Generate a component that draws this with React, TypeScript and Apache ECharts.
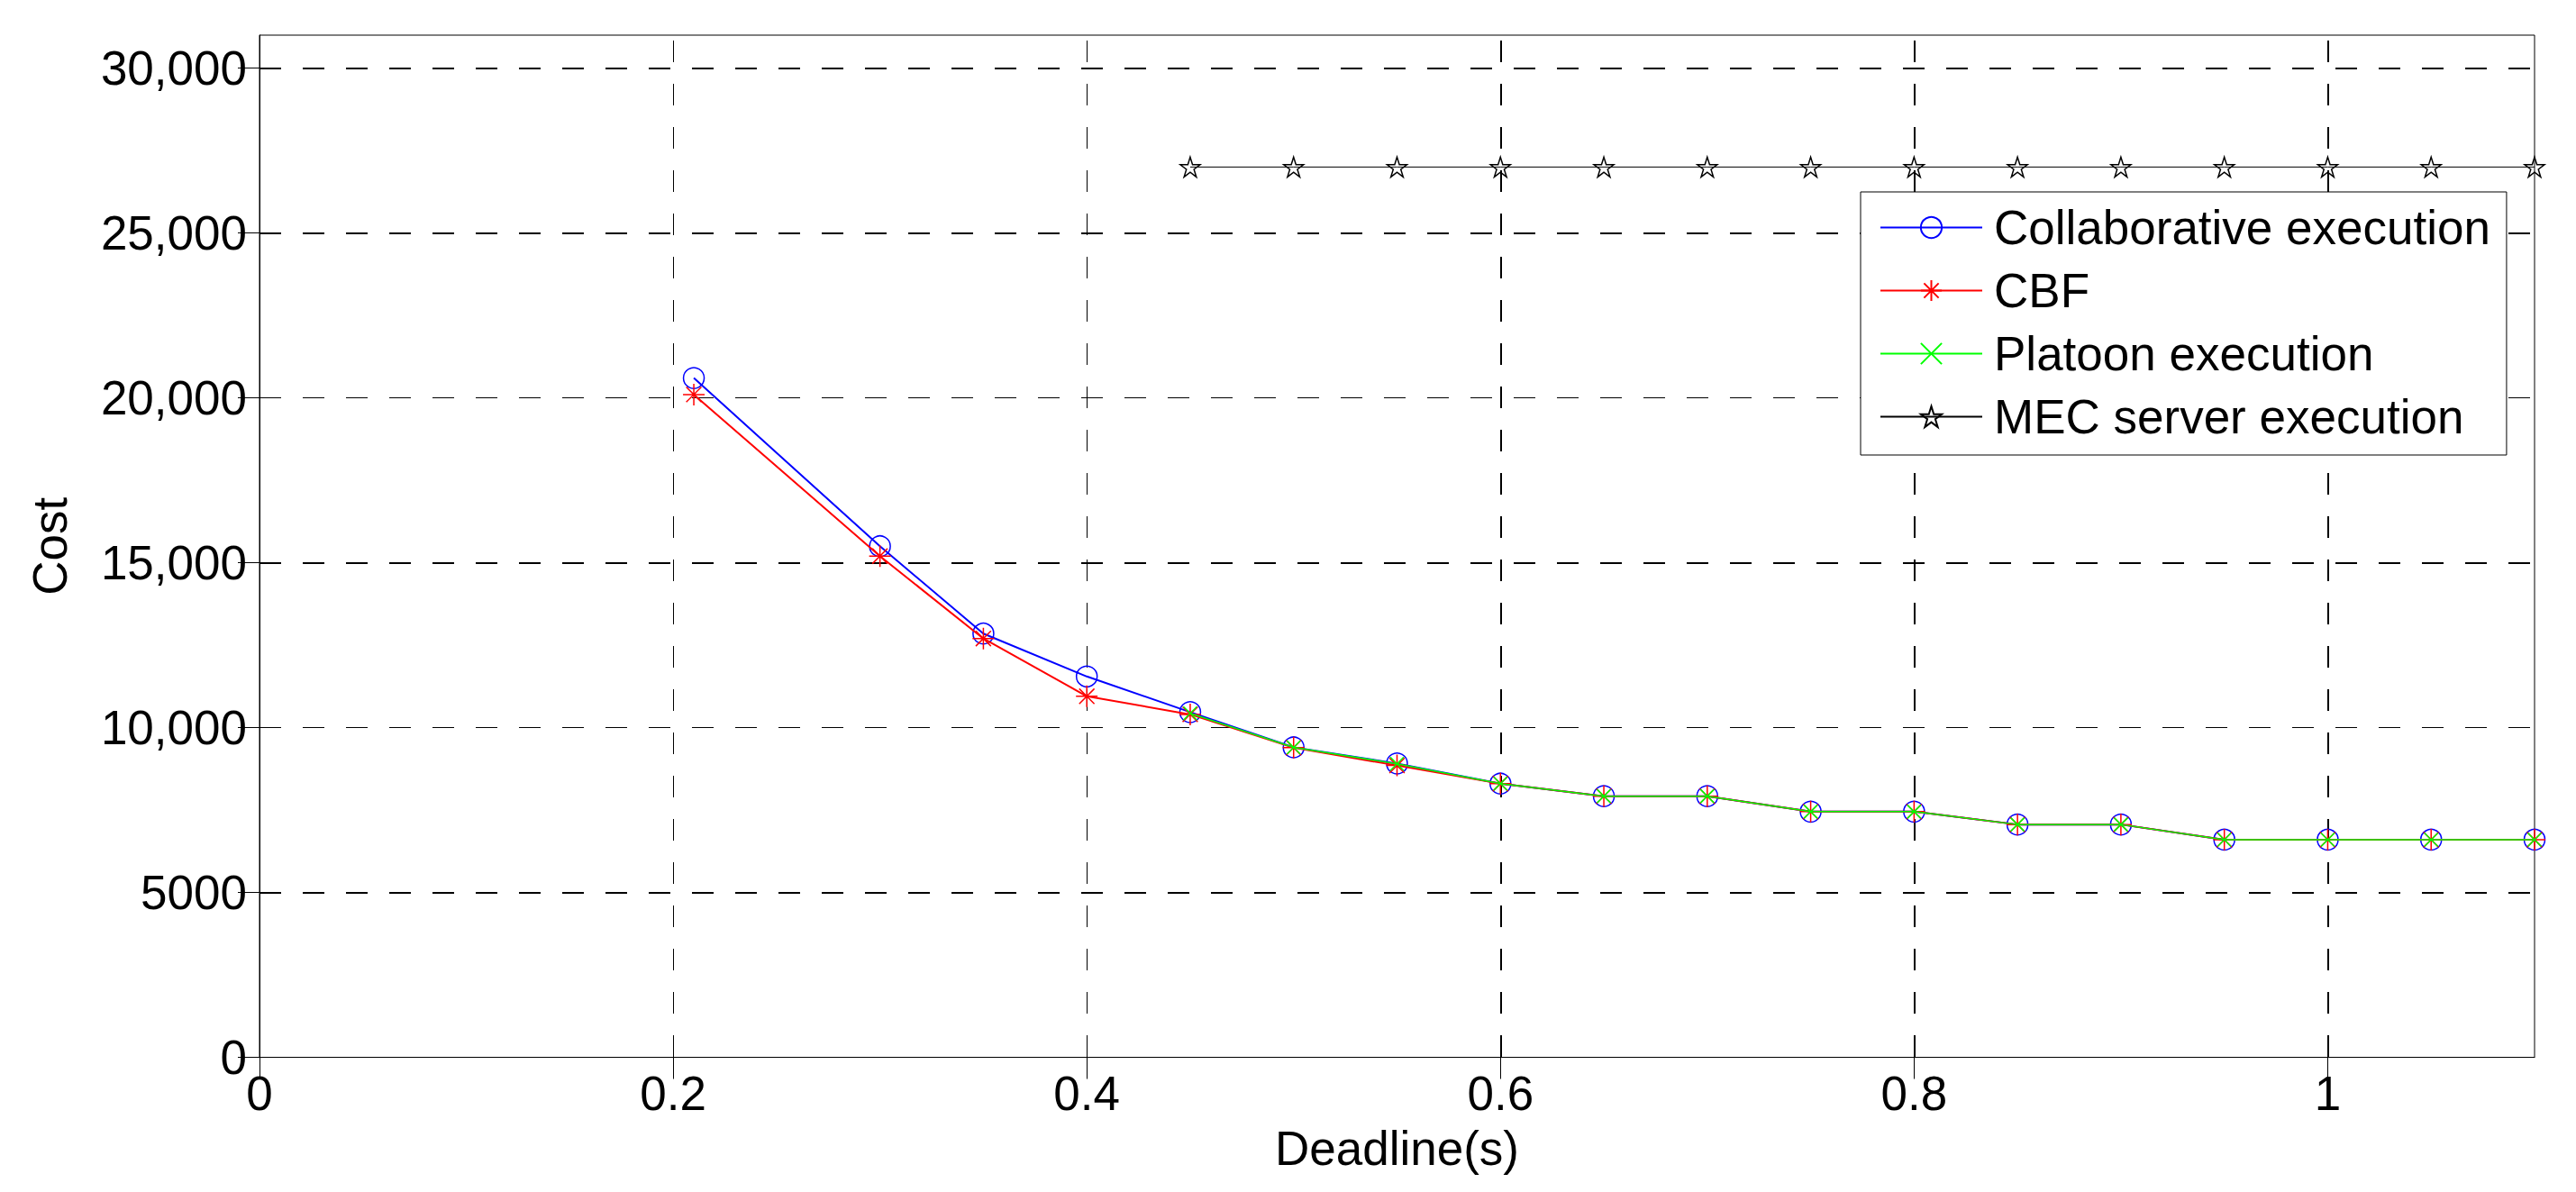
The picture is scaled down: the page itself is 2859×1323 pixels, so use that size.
import React, { useEffect, useRef } from 'react';
import * as echarts from 'echarts';

// ---- data ----
const deadlines = [0.21, 0.3, 0.35, 0.4, 0.45, 0.5, 0.55, 0.6, 0.65, 0.7, 0.75, 0.8, 0.85, 0.9, 0.95, 1.0, 1.05, 1.1];
const collaborative = [20600, 15500, 12850, 11550, 10470, 9400, 8910, 8300, 7920, 7920, 7450, 7450, 7060, 7060, 6600, 6600, 6600, 6600];
const cbf = [20100, 15200, 12700, 10950, 10400, 9390, 8850, 8300, 7920, 7920, 7450, 7450, 7060, 7060, 6600, 6600, 6600, 6600];
const platoonDeadlines = [0.45, 0.5, 0.55, 0.6, 0.65, 0.7, 0.75, 0.8, 0.85, 0.9, 0.95, 1.0, 1.05, 1.1];
const platoon = [10430, 9400, 8900, 8300, 7920, 7920, 7450, 7450, 7060, 7060, 6600, 6600, 6600, 6600];
const mecDeadlines = [0.45, 0.5, 0.55, 0.6, 0.65, 0.7, 0.75, 0.8, 0.85, 0.9, 0.95, 1.0, 1.05, 1.1];
const mec = [27000, 27000, 27000, 27000, 27000, 27000, 27000, 27000, 27000, 27000, 27000, 27000, 27000, 27000];
const seriesNames = ['Collaborative execution', 'CBF', 'Platoon execution', 'MEC server execution'];
const xTicks = [0, 0.2, 0.4, 0.6, 0.8, 1.0];
const yTicks = [0, 5000, 10000, 15000, 20000, 25000, 30000];
const xRange = [0, 1.1];
const yRange = [0, 31000];
const xAxisTitle = 'Deadline(s)';
const yAxisTitle = 'Cost';

// ---- styles ----
// grid lines that are rendered heavier (2px) in the reference picture
const heavyXGrid = [0.6, 0.8, 1.0];
const heavyYGrid = [5000, 15000, 25000, 30000];
const FONT = '"Liberation Sans", Arial, Helvetica, sans-serif';
const ASTERISK = 'path://M0,-10L0,10M-10,0L10,0M-7,-7L7,7M-7,7L7,-7';
const CROSS = 'path://M-10,-10L10,10M-10,10L10,-10';
const STAR =
  'path://M0,-1L0.2245,-0.309L0.951,-0.309L0.363,0.118L0.588,0.809L0,0.382L-0.588,0.809L-0.363,0.118L-0.951,-0.309L-0.2245,-0.309Z';

function fmtY(v: number): string {
  if (v < 10000) return String(v);
  return String(v).replace(/\B(?=(\d{3})+(?!\d))/g, ',');
}

const pairs = (xs: number[], ys: number[]) => xs.map((x, i) => [x, ys[i]]);

export default function App() {
  const ref = useRef<HTMLDivElement>(null);

  useEffect(() => {
    if (!ref.current) return;
    const chart = echarts.init(ref.current, undefined, { renderer: 'svg' });
    const black = '#000000';
    const tickStyle = { color: black, width: 1 };
    const labelBase = { fontSize: 53, lineHeight: 53, color: black, fontFamily: FONT };

    const mirrorAxis = (pos: string, range: number[], ticks: number[]) => ({
      type: 'value',
      min: range[0],
      max: range[1],
      position: pos,
      axisLine: { show: false },
      axisTick: { show: true, inside: true, length: 24, lineStyle: tickStyle, customValues: ticks },
      axisLabel: { show: false, customValues: ticks },
      splitLine: { show: false },
    });

    const heavyGridAxis = (pos: string, range: number[], ticks: number[], dashOffset: number) => ({
      type: 'value',
      min: range[0],
      max: range[1],
      position: pos,
      axisLine: { show: false },
      axisTick: { show: false, customValues: ticks },
      axisLabel: { show: false, customValues: ticks },
      splitLine: { show: true, lineStyle: { color: black, width: 2, type: [24, 24], dashOffset } },
    });

    const option: any = {
      animation: false,
      backgroundColor: '#ffffff',
      textStyle: { fontFamily: FONT },
      grid: {
        left: 288,
        right: 46,
        top: 39,
        bottom: 149.5,
        show: true,
        borderColor: black,
        borderWidth: 1,
        backgroundColor: '#ffffff',
        containLabel: false,
        outerBoundsMode: 'none',
      },
      xAxis: [
        {
          type: 'value',
          min: xRange[0],
          max: xRange[1],
          position: 'bottom',
          name: xAxisTitle,
          nameLocation: 'middle',
          nameGap: 74.5,
          nameTextStyle: { ...labelBase },
          axisLine: { show: true, onZero: false, lineStyle: { color: black, width: 1 } },
          axisTick: { show: true, inside: true, length: 24, lineStyle: tickStyle, customValues: xTicks },
          axisLabel: { ...labelBase, margin: 13.5, customValues: xTicks },
          splitLine: { show: true, lineStyle: { color: black, width: 1, type: [24, 24], dashOffset: 41.5 } },
        },
        mirrorAxis('top', xRange, xTicks),
        heavyGridAxis('bottom', xRange, heavyXGrid, 41.5),
      ],
      yAxis: [
        {
          type: 'value',
          min: yRange[0],
          max: yRange[1],
          position: 'left',
          name: yAxisTitle,
          nameLocation: 'middle',
          nameGap: 206,
          nameTextStyle: { ...labelBase },
          axisLine: { show: true, onZero: false, lineStyle: { color: black, width: 1 } },
          axisTick: { show: true, inside: true, length: 24, lineStyle: tickStyle, customValues: yTicks },
          axisLabel: { ...labelBase, margin: 14, customValues: yTicks, formatter: (v: number) => fmtY(v) },
          splitLine: { show: true, lineStyle: { color: black, width: 1, type: [24, 24] } },
        },
        mirrorAxis('right', yRange, yTicks),
        heavyGridAxis('left', yRange, heavyYGrid, 0),
      ],
      legend: {
        show: true,
        orient: 'vertical',
        left: 2065,
        top: 213,
        padding: [13, 18, 16, 21],
        itemGap: 17,
        itemWidth: 113,
        itemHeight: 29,
        backgroundColor: '#ffffff',
        borderColor: black,
        borderWidth: 1,
        selectedMode: false,
        textStyle: { ...labelBase, padding: [0, 0, 0, 8] },
        data: seriesNames,
      },
      series: [
        {
          name: seriesNames[0],
          type: 'line',
          xAxisIndex: 0,
          yAxisIndex: 0,
          data: pairs(deadlines, collaborative),
          symbol: 'circle',
          symbolSize: 23,
          showAllSymbol: true,
          lineStyle: { color: '#0000ff', width: 2 },
          itemStyle: { color: 'rgba(0,0,0,0)', borderColor: '#0000ff', borderWidth: 1.5 },
          emphasis: { disabled: true },
          silent: true,
          z: 3,
        },
        {
          name: seriesNames[1],
          type: 'line',
          xAxisIndex: 0,
          yAxisIndex: 0,
          data: pairs(deadlines, cbf),
          symbol: ASTERISK,
          symbolSize: 24,
          showAllSymbol: true,
          lineStyle: { color: '#ff0000', width: 2 },
          itemStyle: { color: 'rgba(0,0,0,0)', borderColor: '#ff0000', borderWidth: 1.5 },
          emphasis: { disabled: true },
          silent: true,
          z: 4,
        },
        {
          name: seriesNames[2],
          type: 'line',
          xAxisIndex: 0,
          yAxisIndex: 0,
          data: pairs(platoonDeadlines, platoon),
          symbol: CROSS,
          symbolSize: 15,
          showAllSymbol: true,
          lineStyle: { color: '#00ff00', width: 1.5 },
          itemStyle: { color: 'rgba(0,0,0,0)', borderColor: '#00ff00', borderWidth: 1.5 },
          emphasis: { disabled: true },
          silent: true,
          z: 5,
        },
        {
          name: seriesNames[3],
          type: 'line',
          xAxisIndex: 0,
          yAxisIndex: 0,
          data: pairs(mecDeadlines, mec),
          symbol: STAR,
          symbolSize: 22,
          showAllSymbol: true,
          lineStyle: { color: '#000000', width: 1 },
          itemStyle: { color: 'rgba(0,0,0,0)', borderColor: '#000000', borderWidth: 1.5 },
          emphasis: { disabled: true },
          silent: true,
          z: 6,
        },
      ],
    };

    chart.setOption(option);
    return () => {
      chart.dispose();
    };
  }, []);

  return (
    <div
      ref={ref}
      style={{ position: 'absolute', left: 0, top: 0, width: 2859, height: 1323, background: '#ffffff' }}
    />
  );
}
